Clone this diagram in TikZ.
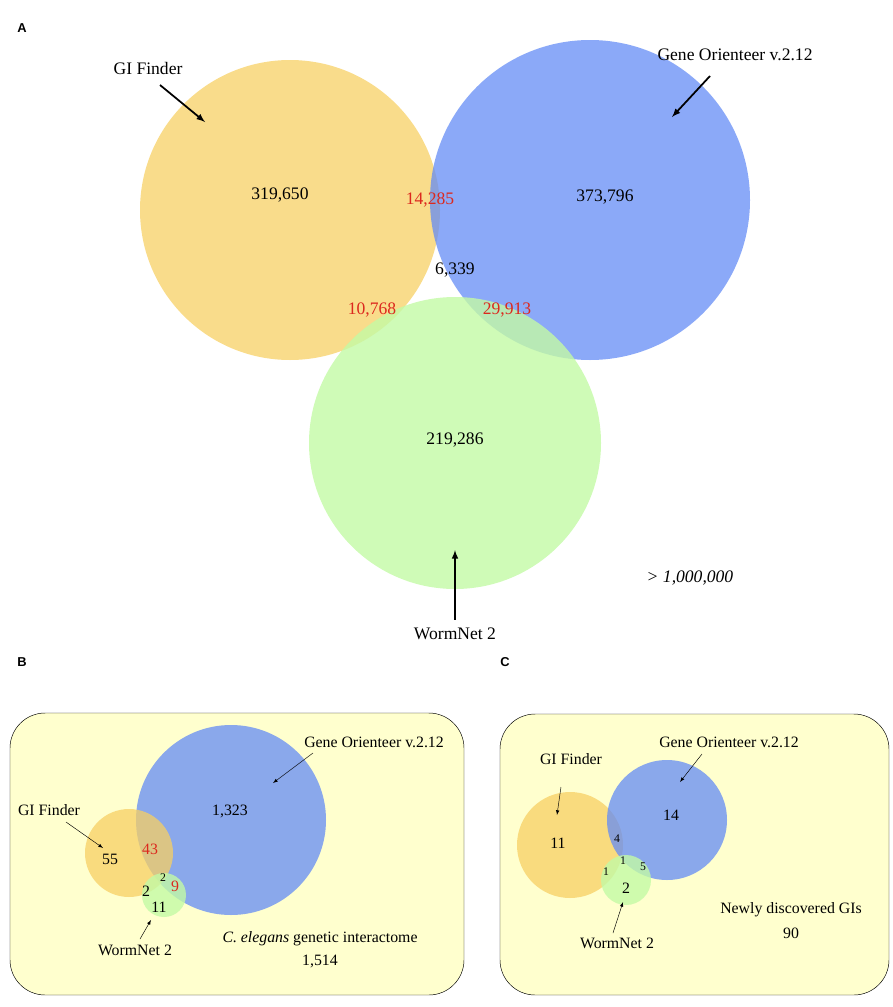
\documentclass[tikz,border=0pt]{standalone}
\usepackage{fontspec}
\setmainfont{Liberation Serif}
\setsansfont{Liberation Sans}
\usetikzlibrary{positioning}
\definecolor{gifill}{RGB}{247,208,100}
\definecolor{gofill}{RGB}{100,140,245}
\definecolor{wnfill}{RGB}{195,250,165}
\definecolor{boxfill}{RGB}{255,255,206}
\definecolor{ovred}{RGB}{220,40,30}
\tikzset{
  gi/.style={fill=gifill, fill opacity=0.75},
  go/.style={fill=gofill, fill opacity=0.75},
  wn/.style={fill=wnfill, fill opacity=0.8},
  big/.style={font=\fontsize{15}{18}\selectfont},
  mid/.style={font=\fontsize{13.5}{16}\selectfont},
  tiny/.style={font=\fontsize{10}{12}\selectfont},
  red/.style={text=ovred},
  panel/.style={font=\sffamily\bfseries\fontsize{11}{13}\selectfont},
  ptr/.style={-latex, thick},
  sptr/.style={-latex}
}
\begin{document}
\begin{tikzpicture}[x=0.03cm, y=-0.03cm]
\useasboundingbox (0,0) rectangle (892,1007);

% panel A
\node[panel] (la) at (22,28) {A};
\fill[gi] (290,210) circle (150);
\fill[go] (590,200) circle (160);
\fill[wn] (455,443) circle (146);
\node[big] (a1) at (280,195) {319,650};
\node[big,red] (a2) at (430,200) {14,285};
\node[big] (a3) at (605,197) {373,796};
\node[big] (a4) at (455,270) {6,339};
\node[big,red] (a5) at (372,310) {10,768};
\node[big,red] (a6) at (507,310) {29,913};
\node[big] (a7) at (455,440) {219,286};
\node[big] (atot) at (690,578) {\itshape > 1,000,000};
\node[big] (agi) at (148,68) {GI Finder};
\coordinate (agiend) at (205,122);
\draw[ptr, line width=1.5pt] (160,85) -- (agiend);
\node[big] (ago) at (735,55) {Gene Orienteer v.2.12};
\coordinate (agoend) at (672,117);
\draw[ptr, line width=1.5pt] (710,76) -- (agoend);
\node[big] (awn) at (455,634) {WormNet 2};
\coordinate (awnend) at (455,550);
\draw[ptr, line width=1.5pt] (awn.north) ++(0,-4) -- (awnend);

% panel B
\node[panel] (lb) at (22,662) {B};
\draw[fill=boxfill, rounded corners=30] (10,713) rectangle (464,995);
\fill[go] (231,820) circle (95);
\fill[gi] (129,853) circle (44);
\fill[wn] (164,895) circle (22);
\node[mid] (bgo) at (374,742) {Gene Orienteer v.2.12};
\draw[sptr] (313,753) -- (273,783);
\node[mid] (b1) at (230,811) {1,323};
\node[mid] (bgi) at (49,810) {GI Finder};
\draw[sptr] (66,822) -- (103,848);
\node[mid] (b2) at (110,859) {55};
\node[mid,red] (b3) at (150,849) {43};
\node[tiny] (b4) at (163,878) {2};
\node[mid,red] (b5) at (175,886) {9};
\node[mid] (b6) at (146,891) {2};
\node[mid] (b7) at (159,907) {11};
\node[mid] (bwn) at (135,950) {WormNet 2};
\draw[sptr] (140,939) -- (151,920);
\node[mid] (bce) at (320,939) {\textit{C. elegans} genetic interactome};
\node[mid] (btot) at (320,961) {1,514};

% panel C
\node[panel] (lc) at (505,662) {C};
\draw[fill=boxfill, rounded corners=30] (500,714) rectangle (889,995);
\fill[gi] (570,845) circle (53);
\fill[go] (667,820) circle (60);
\fill[wn] (626,880) circle (25);
\node[mid] (cgo) at (729,742) {Gene Orienteer v.2.12};
\draw[sptr] (702,754) -- (680,782);
\node[mid] (cgi) at (571,759) {GI Finder};
\draw[sptr] (561,787) -- (557,815);
\node[mid] (c1) at (558,843) {11};
\node[mid] (c2) at (671,815) {14};
\node[tiny] (c3) at (617,839) {4};
\node[tiny] (c4) at (623,861) {1};
\node[tiny] (c5) at (643,867) {5};
\node[tiny] (c6) at (606,872) {1};
\node[mid] (c7) at (626,888) {2};
\node[mid] (cwn) at (617,943) {WormNet 2};
\draw[sptr] (613,933) -- (623,902);
\node[mid] (cnew) at (791,910) {Newly discovered GIs};
\node[mid] (ctot) at (791,933) {90};
\end{tikzpicture}
\end{document}
